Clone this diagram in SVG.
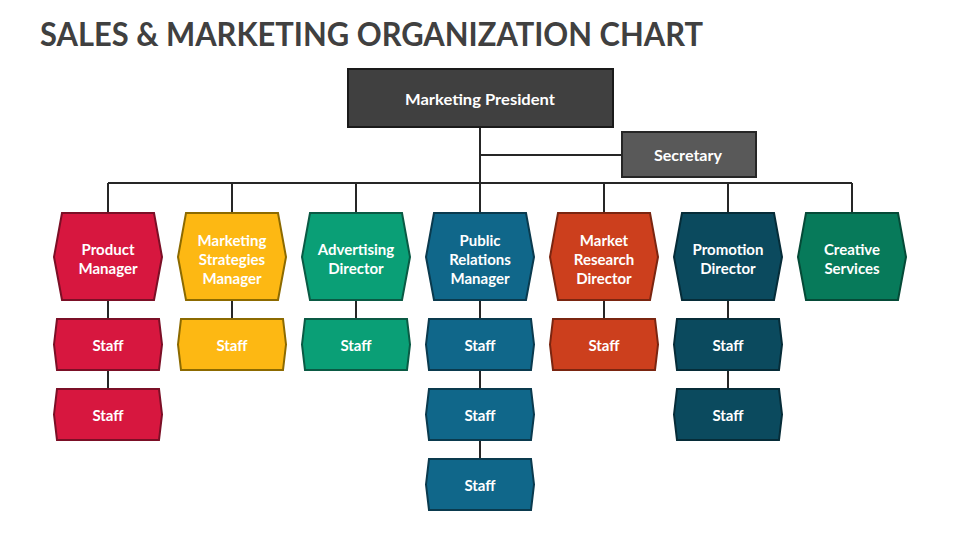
<svg xmlns="http://www.w3.org/2000/svg" width="960" height="540" viewBox="0 0 960 540">
<style>
.t{font-family:Lato,"Open Sans","Liberation Sans",sans-serif;fill:#fff;font-weight:bold;font-size:15px;text-anchor:middle}
.ln{stroke:#262626;stroke-width:2;fill:none}
.red{fill:#D7173F;stroke:#7B0F26;stroke-width:2}
.yel{fill:#FDB813;stroke:#8C6A00;stroke-width:2}
.grn{fill:#0A9F76;stroke:#0A5A44;stroke-width:2}
.tea{fill:#10678A;stroke:#0A3A4E;stroke-width:2}
.org{fill:#CC3F1D;stroke:#7A2510;stroke-width:2}
.dtl{fill:#0B4A5E;stroke:#062C38;stroke-width:2}
.crt{fill:#077A5A;stroke:#054A37;stroke-width:2}
</style>
<defs>
<polygon id="head" points="-54,44 -46,0 46,0 54,44 46,87 -46,87"/>
<polygon id="staff" points="-54,25.5 -51,0 51,0 54,25.5 51,51 -51,51"/>
</defs>
<rect width="960" height="540" fill="#fff"/>
<text x="40" y="46" font-family="Lato,'Open Sans','Liberation Sans',sans-serif" font-weight="bold" font-size="33" fill="#404040" textLength="663" lengthAdjust="spacingAndGlyphs">SALES &amp; MARKETING ORGANIZATION CHART</text>
<g id="connectors" class="ln">
<path d="M480 127V213M480 155H622M108 183H852"/>
<path d="M108 183V213M232 183V213M356 183V213M604 183V213M728 183V213M852 183V213"/>
<path d="M108 300V389M232 300V319M356 300V319M480 300V459M604 300V319M728 300V389"/>
</g>
<g id="president">
<rect x="348" y="69" width="265" height="58" fill="#404040" stroke="#1A1A1A" stroke-width="2"/>
<text class="t" x="480" y="105" font-size="19" textLength="150" lengthAdjust="spacingAndGlyphs">Marketing President</text>
</g>
<g id="secretary">
<rect x="622" y="132" width="134" height="45" fill="#595959" stroke="#262626" stroke-width="2"/>
<text class="t" x="688" y="161" font-size="17" textLength="68" lengthAdjust="spacingAndGlyphs">Secretary</text>
</g>
<g id="product-manager">
<use href="#head" x="108" y="213" class="red"/>
<text class="t" x="108" y="255">Product</text><text class="t" x="108" y="274">Manager</text>
</g>
<g id="product-staff-1"><use href="#staff" x="108" y="319" class="red"/><text class="t" x="108" y="351">Staff</text></g>
<g id="product-staff-2"><use href="#staff" x="108" y="389" class="red"/><text class="t" x="108" y="421">Staff</text></g>
<g id="marketing-strategies">
<use href="#head" x="232" y="213" class="yel"/>
<text class="t" x="232" y="246">Marketing</text><text class="t" x="232" y="265">Strategies</text><text class="t" x="232" y="284">Manager</text>
</g>
<g id="strategies-staff-1"><use href="#staff" x="232" y="319" class="yel"/><text class="t" x="232" y="351">Staff</text></g>
<g id="advertising-director">
<use href="#head" x="356" y="213" class="grn"/>
<text class="t" x="356" y="255">Advertising</text><text class="t" x="356" y="274">Director</text>
</g>
<g id="advertising-staff-1"><use href="#staff" x="356" y="319" class="grn"/><text class="t" x="356" y="351">Staff</text></g>
<g id="public-relations">
<use href="#head" x="480" y="213" class="tea"/>
<text class="t" x="480" y="246">Public</text><text class="t" x="480" y="265">Relations</text><text class="t" x="480" y="284">Manager</text>
</g>
<g id="pr-staff-1"><use href="#staff" x="480" y="319" class="tea"/><text class="t" x="480" y="351">Staff</text></g>
<g id="pr-staff-2"><use href="#staff" x="480" y="389" class="tea"/><text class="t" x="480" y="421">Staff</text></g>
<g id="pr-staff-3"><use href="#staff" x="480" y="459" class="tea"/><text class="t" x="480" y="491">Staff</text></g>
<g id="market-research">
<use href="#head" x="604" y="213" class="org"/>
<text class="t" x="604" y="246">Market</text><text class="t" x="604" y="265">Research</text><text class="t" x="604" y="284">Director</text>
</g>
<g id="research-staff-1"><use href="#staff" x="604" y="319" class="org"/><text class="t" x="604" y="351">Staff</text></g>
<g id="promotion-director">
<use href="#head" x="728" y="213" class="dtl"/>
<text class="t" x="728" y="255">Promotion</text><text class="t" x="728" y="274">Director</text>
</g>
<g id="promotion-staff-1"><use href="#staff" x="728" y="319" class="dtl"/><text class="t" x="728" y="351">Staff</text></g>
<g id="promotion-staff-2"><use href="#staff" x="728" y="389" class="dtl"/><text class="t" x="728" y="421">Staff</text></g>
<g id="creative-services">
<use href="#head" x="852" y="213" class="crt"/>
<text class="t" x="852" y="255">Creative</text><text class="t" x="852" y="274">Services</text>
</g>
</svg>
